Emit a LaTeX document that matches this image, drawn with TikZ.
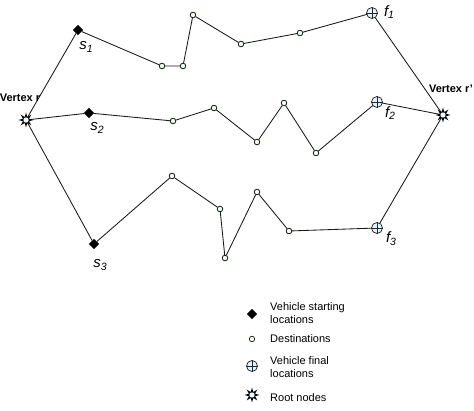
\documentclass[tikz,border=0pt]{standalone}
\usepackage{fontspec}
\setmainfont{Liberation Sans}
\usetikzlibrary{shapes.geometric,shapes.misc}
\tikzset{
  route/.style={draw=black!90, line width=0.85pt},
  dest/.style={circle, draw=black!85, fill=green!6, line width=0.75pt, minimum size=5.5pt, inner sep=0pt},
  start/.style={diamond, fill=black, minimum size=10.5pt, inner sep=0pt},
  finalbg/.style={circle, draw=black!85, fill=cyan!12, line width=0.75pt, minimum size=11pt, inner sep=0pt},
  root/.style={star, star points=8, star point ratio=2.3, fill=black, minimum size=15pt, inner sep=0pt},
  rootcore/.style={circle, draw=black, fill=cyan!8, line width=0.4pt, minimum size=6pt, inner sep=0pt},
  slab/.style={font=\fontsize{15}{15}\selectfont\itshape, inner sep=0pt},
  vlab/.style={font=\bfseries\fontsize{11}{12}\selectfont, inner sep=0pt},
  leg/.style={font=\fontsize{11}{13}\selectfont, anchor=west, align=left, inner sep=0pt}
}
\newcommand{\finalmark}[2]{%
  \node[finalbg] (#1) at #2 {};
  \draw[black!85, line width=0.75pt] (#1.north) -- (#1.south) (#1.west) -- (#1.east);
}
\newcommand{\rootmark}[2]{%
  \node[root] (#1) at #2 {};
  \node[rootcore] (#1c) at #2 {};
}
\newcommand{\sub}[1]{\raisebox{-0.35ex}{\fontsize{10.5}{10.5}\selectfont #1}}
\begin{document}
\begin{tikzpicture}[x=1pt,y=-1pt]
\useasboundingbox (0,0) rectangle (474,411);
% node positions
\coordinate (rl) at (26,120);
\coordinate (rr) at (443,115);
\node[start] (s1) at (78,30) {};
\node[dest] (a1) at (162,66) {};
\node[dest] (a2) at (183,66) {};
\node[dest] (a3) at (193,15) {};
\node[dest] (a4) at (241,44) {};
\node[dest] (a5) at (300,33) {};
\coordinate (f1) at (372,13);
\node[start] (s2) at (89,113) {};
\node[dest] (b1) at (173,121) {};
\node[dest] (b2) at (214,108) {};
\node[dest] (b3) at (257,142) {};
\node[dest] (b4) at (284,103) {};
\node[dest] (b5) at (316,153) {};
\coordinate (f2) at (377,102);
\node[start] (s3) at (94,244) {};
\node[dest] (c1) at (172,176) {};
\node[dest] (c2) at (220,209) {};
\node[dest] (c3) at (225,258) {};
\node[dest] (c4) at (257,192) {};
\node[dest] (c5) at (289,231) {};
\coordinate (f3) at (377,228);
% edges
\draw[route] (rl) -- (s1) -- (a1) -- (a2) -- (a3) -- (a4) -- (a5) -- (f1) -- (rr);
\draw[route] (rl) -- (s2) -- (b1) -- (b2) -- (b3) -- (b4) -- (b5) -- (f2) -- (rr);
\draw[route] (rl) -- (s3) -- (c1) -- (c2) -- (c3) -- (c4) -- (c5) -- (f3) -- (rr);
% nodes on top
\foreach \n in {a1,a2,a3,a4,a5,b1,b2,b3,b4,b5,c1,c2,c3,c4,c5} {\node[dest] at (\n) {};}
\rootmark{rln}{(rl)}
\rootmark{rrn}{(rr)}
\finalmark{f1n}{(f1)}
\finalmark{f2n}{(f2)}
\finalmark{f3n}{(f3)}
% labels
\node[vlab] (rll) at (20,98) {Vertex r};
\node[vlab] (rrl) at (451,89) {Vertex r'};
\node[slab] (s1l) at (86,47) {s\sub{1}};
\node[slab] (s2l) at (97,128) {s\sub{2}};
\node[slab] (s3l) at (100,265) {s\sub{3}};
\node[slab] (f1l) at (389,12) {f\sub{1}};
\node[slab] (f2l) at (390,113) {f\sub{2}};
\node[slab] (f3l) at (391,239) {f\sub{3}};
% legend
\node[start] (l1) at (252,314) {};
\node[leg] (l1t) at (270,313) {Vehicle starting\\locations};
\node[dest] (l2) at (252,339) {};
\node[leg] (l2t) at (270,339) {Destinations};
\finalmark{l3}{(252,366)}
\node[leg] (l3t) at (270,367) {Vehicle final\\locations};
\rootmark{l4}{(252,395)}
\node[leg] (l4t) at (270,398) {Root nodes};
\end{tikzpicture}
\end{document}
